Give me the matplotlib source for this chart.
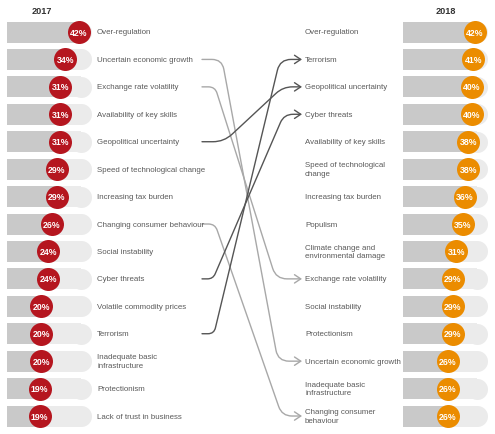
import numpy as np
import matplotlib
matplotlib.use("Agg")
from matplotlib import pyplot as plt
from matplotlib import font_manager
from matplotlib.textpath import TextPath
from matplotlib.path import Path
from matplotlib.patches import FancyArrowPatch

labels_2017 = ["Over-regulation", "Uncertain economic growth", "Exchange rate volatility",
               "Availability of key skills", "Geopolitical uncertainty",
               "Speed of technological change", "Increasing tax burden",
               "Changing consumer behaviour", "Social instability", "Cyber threats",
               "Volatile commodity prices", "Terrorism", "Inadequate basic\ninfrastructure",
               "Protectionism", "Lack of trust in business"]
values_2017 = [42, 34, 31, 31, 31, 29, 29, 26, 24, 24, 20, 20, 20, 19, 19]

labels_2018 = ["Over-regulation", "Terrorism", "Geopolitical uncertainty", "Cyber threats",
               "Availability of key skills", "Speed of technological\nchange",
               "Increasing tax burden", "Populism", "Climate change and\nenvironmental damage",
               "Exchange rate volatility", "Social instability", "Protectionism",
               "Uncertain economic growth", "Inadequate basic\ninfrastructure",
               "Changing consumer\nbehaviour"]
values_2018 = [42, 41, 40, 40, 38, 38, 36, 35, 31, 29, 29, 29, 26, 26, 26]

# (row in 2017, row in 2018) for the risks that moved a lot
moves = [(1, 12), (2, 9), (7, 14), (4, 2), (9, 3), (11, 1)]
# x of the two bends of each connector (pixels)
bends = [(222, 278), (215, 276), (215, 282), (224, 283), (213, 284), (214, 280)]

W, H = 495, 435
ROW0, ROW = 33, 27.43

# pick the narrowest installed sans, the original uses a condensed face
cands = ["Liberation Sans Narrow", "Arial Narrow", "DejaVu Sans Condensed", "Roboto",
         "Liberation Sans", "Inter", "Lato", "Open Sans", "Noto Sans", "DejaVu Sans"]
best, best_w = "DejaVu Sans", 1e9
for fam in cands:
    try:
        fp = font_manager.FontProperties(family=fam)
        font_manager.fontManager.findfont(fp, fallback_to_default=False)
    except Exception:
        continue
    w = TextPath((0, 0), "Uncertain economic growth", size=1, prop=fp).get_extents().width
    if w < best_w:
        best, best_w = fam, w
plt.rcParams["font.family"] = [best, "DejaVu Sans"]
# "Uncertain economic growth" is ~91 px wide in the original
lab_size = min(7.2, 95 / best_w * 0.72)

RED, ORANGE = "#b5161f", "#eb8c00"
TRACK, FILL = "#ebebeb", "#c9c9c9"
TXT = "#5a5a5a"

fig = plt.figure(figsize=(W / 100, H / 100), dpi=100)
ax = fig.add_axes([0, 0, 1, 1])
ax.set_xlim(0, W)
ax.set_ylim(H, 0)
ax.axis("off")


def row_y(i):
    return ROW0 + i * ROW


ylim_rows = ((H - ROW0) / ROW, -ROW0 / ROW)
bar_h = 21 / ROW
track_len = 49.0
cap_r = 10.5 / 1.72  # in percent units


def bar_panel(left_px, values, color):
    b = fig.add_axes([left_px / W, 0, 84 / W, 1])
    b.set_xlim(0, track_len)
    b.set_ylim(*ylim_rows)
    b.axis("off")
    rows = np.arange(len(values))
    b.barh(rows, track_len - cap_r, height=bar_h, color=TRACK, lw=0)
    b.scatter(np.full(len(rows), track_len - cap_r), rows, s=(21 * 0.72) ** 2,
              color=TRACK, lw=0, clip_on=False)
    b.barh(rows, values, height=bar_h, color=FILL, lw=0)
    b.scatter(values, rows, s=(23 * 0.72) ** 2, color=color, lw=0, zorder=3, clip_on=False)
    for r, v in zip(rows, values):
        b.text(v, r, f"{v}%", ha="center", va="center", color="white",
               fontsize=6.3, fontweight="bold", zorder=4)
    return b


bar_panel(7, values_2017, RED)
bar_panel(403, values_2018, ORANGE)

ax.text(42, 11, "2017", ha="center", va="center", fontsize=6.6, fontweight="bold", color="#333333")
ax.text(446, 11, "2018", ha="center", va="center", fontsize=6.6, fontweight="bold", color="#333333")

for i, lab in enumerate(labels_2017):
    ax.text(97, row_y(i), lab, ha="left", va="center", fontsize=lab_size, color=TXT, linespacing=1.35)
for i, lab in enumerate(labels_2018):
    ax.text(305, row_y(i), lab, ha="left", va="center", fontsize=lab_size, color=TXT, linespacing=1.35)


def rounded_path(pts, r):
    pts = [np.array(p, float) for p in pts]
    verts, codes = [pts[0]], [Path.MOVETO]
    for k in range(1, len(pts) - 1):
        p, c, n = pts[k - 1], pts[k], pts[k + 1]
        din, dout = np.linalg.norm(c - p), np.linalg.norm(n - c)
        d = min(r, din / 2, dout / 2)
        verts += [c - d * (c - p) / din, c, c + d * (n - c) / dout]
        codes += [Path.LINETO, Path.CURVE3, Path.CURVE3]
    verts.append(pts[-1])
    codes.append(Path.LINETO)
    return Path(verts, codes)


for (a, b_), (xa, xb) in zip(moves, bends):
    ya, yb = row_y(a), row_y(b_)
    rose = b_ < a
    col = "#555555" if rose else "#a8a8a8"
    r = 22 if abs(yb - ya) < 80 else 11
    path = rounded_path([(202, ya), (xa, ya), (xb, yb), (302, yb)], r)
    arr = FancyArrowPatch(path=path, arrowstyle="->,head_length=0.45,head_width=0.3",
                          mutation_scale=10, lw=1.0, color=col)
    ax.add_patch(arr)

fig.savefig("out.png", dpi=100)
